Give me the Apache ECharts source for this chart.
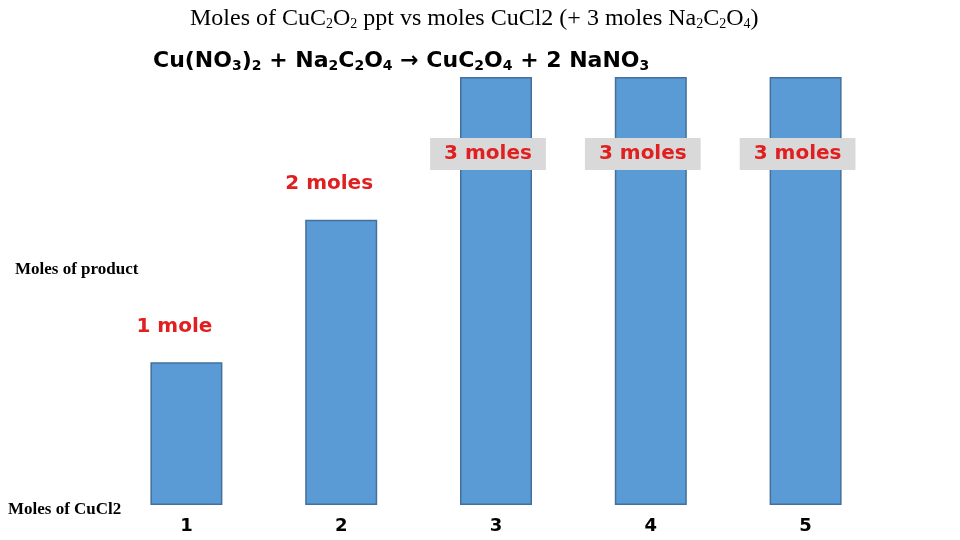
<!DOCTYPE html>
<html><head><meta charset="utf-8">
<script src="https://cdn.jsdelivr.net/npm/echarts@6/dist/echarts.min.js"></script>
<style>html,body{margin:0;background:#fff}#c{width:960px;height:540px}</style>
</head><body><div id="c"></div>
<script>
const categories = ['1', '2', '3', '4', '5'];
const moles = [1, 2, 3, 3, 3];
const labels = ['1 mole', '2 moles', '3 moles', '3 moles', '3 moles'];

const chart = echarts.init(document.getElementById('c'));
const sub = { fontSize: 14, padding: [10, 0, 0, 0] };
const bsub = { fontSize: 14, fontWeight: 'bold', fontFamily: 'DejaVu Sans', padding: [10, 0, 0, 0] };
const lblFont = { color: '#e02020', fontSize: 20, fontWeight: 'bold', fontFamily: 'DejaVu Sans' };

const data = moles.map((v, i) => {
  const full = v >= 3;
  return {
    value: v,
    label: full ? Object.assign({
      show: true, formatter: labels[i], position: 'insideTop', offset: [-8, 56],
      backgroundColor: '#d9d9d9', padding: [6, 14, 6, 14]
    }, lblFont) : Object.assign({
      show: true, formatter: labels[i], position: 'top', distance: 30, offset: [-12, 4]
    }, lblFont)
  };
});

chart.setOption({
  animation: false,
  title: [{
    text: 'Moles of CuC{s|2}O{s|2} ppt vs moles CuCl2 (+ 3 moles Na{s|2}C{s|2}O{s|4})',
    left: 185, top: 2,
    textStyle: { fontFamily: 'Liberation Serif', fontSize: 24, fontWeight: 'normal', color: '#000',
      rich: { s: Object.assign({ fontFamily: 'Liberation Serif' }, sub) } }
  }, {
    text: 'Cu(NO{b|3}){b|2} + Na{b|2}C{b|2}O{b|4} → CuC{b|2}O{b|4} + 2 NaNO{b|3}',
    left: 148, top: 44,
    textStyle: { fontFamily: 'DejaVu Sans', fontSize: 22, fontWeight: 'bold', color: '#000',
      rich: { b: bsub } }
  }],
  graphic: [
    { type: 'text', left: 15, top: 261, style: { text: 'Moles of product', font: 'bold 17px "Liberation Serif"', fill: '#000' } },
    { type: 'text', left: 8, top: 501, style: { text: 'Moles of CuCl2', font: 'bold 17px "Liberation Serif"', fill: '#000' } }
  ],
  grid: { left: 109, right: 77, top: 77, bottom: 35 },
  xAxis: {
    type: 'category', data: categories,
    axisLine: { show: false }, axisTick: { show: false },
    axisLabel: { color: '#000', fontSize: 18, fontWeight: 'bold', fontFamily: 'DejaVu Sans', margin: 12 }
  },
  yAxis: { type: 'value', min: 0, max: 3, show: false, splitLine: { show: false } },
  series: [{
    type: 'bar', data: data, barWidth: 72,
    itemStyle: { color: '#5b9bd5', borderColor: '#41719c', borderWidth: 1.5 }
  }]
});
</script></body></html>
